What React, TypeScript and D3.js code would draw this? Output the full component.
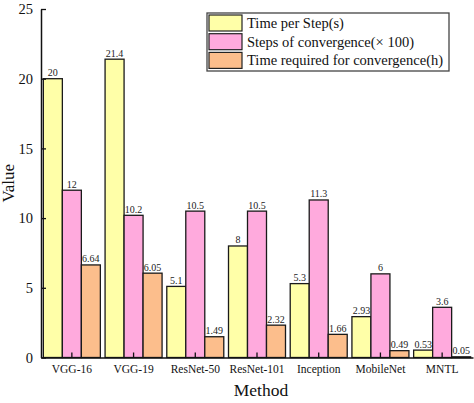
import React, { useRef, useEffect } from 'react';
import * as d3 from 'd3';

const methods = ['VGG-16', 'VGG-19', 'ResNet-50', 'ResNet-101', 'Inception', 'MobileNet', 'MNTL'];
const seriesNames = ['Time per Step(s)', 'Steps of convergence(× 100)', 'Time required for convergence(h)'];
const timePerStep = [20, 21.4, 5.1, 8, 5.3, 2.93, 0.53];
const stepsOfConvergence = [12, 10.2, 10.5, 10.5, 11.3, 6, 3.6];
const timeForConvergence = [6.64, 6.05, 1.49, 2.32, 1.66, 0.49, 0.05];
const yTicks = [0, 5, 10, 15, 20, 25];
const colors = ['#ffffa8', '#ffaadd', '#fcbe8c'];

const App = () => {
    const svgRef = useRef(null);

    useEffect(() => {
        const svg = d3.select(svgRef.current);
        svg.selectAll('*').remove();
        const width = 474;
        const height = 403;
        const margin = { top: 9, right: 1, bottom: 45.5, left: 41 };
        const font = '"Liberation Serif", "Times New Roman", serif';

        const series = [timePerStep, stepsOfConvergence, timeForConvergence];

        const x = d3.scaleBand()
            .domain(methods)
            .range([margin.left, width - margin.right]);

        const inner = d3.scaleBand()
            .domain(d3.range(3).map(String))
            .range([0, 57]);
        const offset = (x.bandwidth() - 57) / 2;

        const y = d3.scaleLinear()
            .domain([0, 25])
            .range([height - margin.bottom, margin.top]);

        const groups = svg.append('g')
            .selectAll('g')
            .data(methods)
            .join('g')
            .attr('transform', d => `translate(${x(d) + offset},0)`);

        groups.selectAll('rect')
            .data((d, i) => series.map((s, k) => ({ k, v: s[i] })))
            .join('rect')
            .attr('x', d => inner(String(d.k)))
            .attr('y', d => y(d.v))
            .attr('width', inner.bandwidth())
            .attr('height', d => y(0) - y(d.v))
            .attr('fill', d => colors[d.k])
            .attr('stroke', '#1a1a1a')
            .attr('stroke-width', 1.3);

        groups.selectAll('text')
            .data((d, i) => series.map((s, k) => ({ k, v: s[i] })))
            .join('text')
            .attr('x', d => inner(String(d.k)) + inner.bandwidth() / 2)
            .attr('y', d => y(d.v) - 2.5)
            .attr('text-anchor', 'middle')
            .attr('font-family', font)
            .attr('font-size', 10)
            .attr('fill', '#222')
            .text(d => String(d.v));

        // x axis
        const xAxis = svg.append('g')
            .attr('transform', `translate(0,${y(0)})`)
            .call(d3.axisBottom(x).tickSizeInner(-5).tickSizeOuter(0).tickPadding(7.5));
        xAxis.select('.domain').attr('stroke', '#111').attr('stroke-width', 1.5);
        xAxis.selectAll('.tick line').attr('stroke', '#111').attr('stroke-width', 1.3);
        xAxis.selectAll('text')
            .attr('font-family', font)
            .attr('font-size', 11.5)
            .attr('fill', '#111');

        // y axis
        const yAxis = svg.append('g')
            .attr('transform', `translate(${margin.left},0)`)
            .call(d3.axisLeft(y).tickValues(yTicks).tickSizeInner(-5).tickSizeOuter(0).tickPadding(8));
        yAxis.select('.domain').attr('stroke', '#111').attr('stroke-width', 1.5);
        yAxis.selectAll('.tick line').attr('stroke', '#111').attr('stroke-width', 1.3);
        yAxis.selectAll('text')
            .attr('font-family', font)
            .attr('font-size', 14.5)
            .attr('fill', '#111');

        svg.append('text')
            .attr('transform', `translate(14,${(y(0) + y(25)) / 2}) rotate(-90)`)
            .attr('text-anchor', 'middle')
            .attr('font-family', font)
            .attr('font-size', 17)
            .attr('fill', '#111')
            .text('Value');

        svg.append('text')
            .attr('x', 261)
            .attr('y', 396)
            .attr('text-anchor', 'middle')
            .attr('font-family', font)
            .attr('font-size', 17.5)
            .attr('fill', '#111')
            .text('Method');

        // legend
        const lg = svg.append('g').attr('transform', 'translate(207,13)');
        lg.append('rect')
            .attr('width', 242)
            .attr('height', 58)
            .attr('fill', 'white')
            .attr('stroke', '#444')
            .attr('stroke-width', 1.3);
        const rows = lg.selectAll('g')
            .data(seriesNames)
            .join('g')
            .attr('transform', (d, i) => `translate(2,${2 + i * 18.7})`);
        rows.append('rect')
            .attr('width', 33)
            .attr('height', 16)
            .attr('fill', (d, i) => colors[i])
            .attr('stroke', '#222')
            .attr('stroke-width', 1.2);
        rows.append('text')
            .attr('x', 38)
            .attr('y', 13)
            .attr('font-family', font)
            .attr('font-size', 14.5)
            .attr('fill', '#111')
            .text(d => d);
    }, []);

    return <svg ref={svgRef} width={474} height={403} style={{ position: 'absolute', left: 0, top: 0, background: 'white' }}></svg>;
};

export default App;
